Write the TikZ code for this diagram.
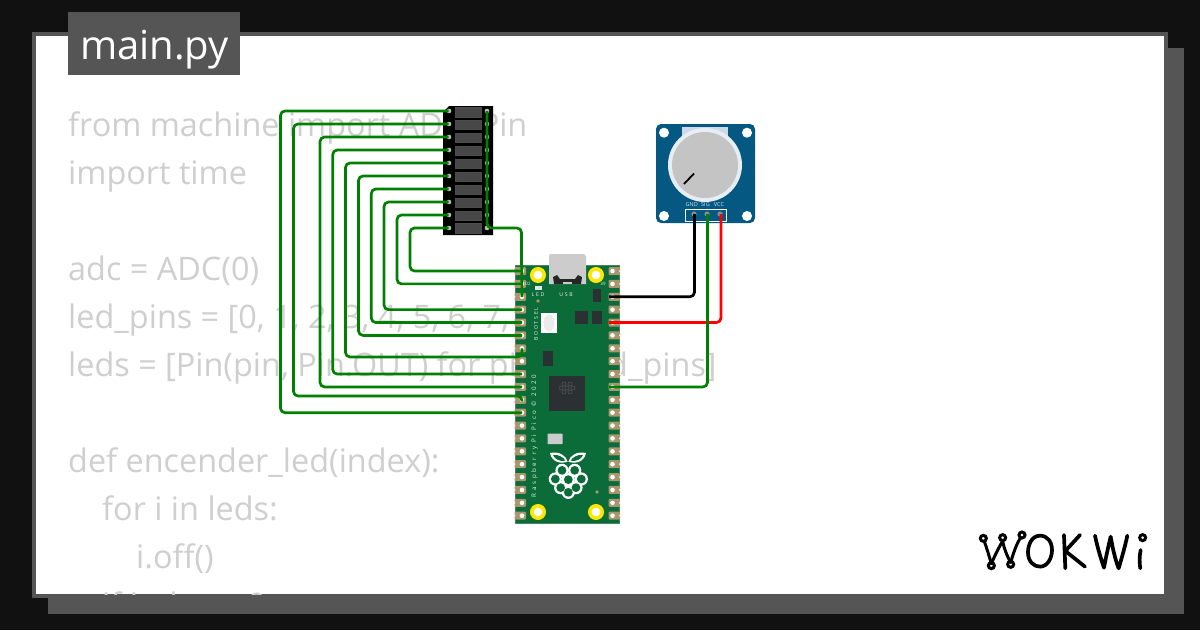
\documentclass[tikz,border=0pt]{standalone}
\usepackage{fontspec}
\setmainfont{Open Sans}
\newfontfamily\pcbfont[LetterSpace=32]{Open Sans}
\newfontfamily\brandfont[LetterSpace=42]{Open Sans}
\usetikzlibrary{calc}
\definecolor{bgdark}{HTML}{111111}
\definecolor{framegrey}{HTML}{555555}
\definecolor{codegrey}{HTML}{CFCFCF}
\definecolor{wiregreen}{HTML}{008000}
\definecolor{pcbgreen}{HTML}{0B6B39}
\definecolor{padtan}{HTML}{A8966E}
\definecolor{chipdark}{HTML}{2B3032}
\definecolor{potblue}{HTML}{045881}
\definecolor{pottab}{HTML}{CDD9E6}
\tikzset{
  codeline/.style={anchor=base west,text=codegrey,font=\fontsize{32.4}{32.4}\selectfont,inner sep=0pt},
  wire/.style={line width=2.7pt,rounded corners=4.5pt,line join=round},
  gwire/.style={wire,draw=wiregreen},
  pcblabel/.style={text=white!92!pcbgreen,font=\pcbfont\fontsize{5.2}{5.2}\selectfont,inner sep=0pt},
  potlabel/.style={text=white!85!potblue,font=\fontsize{5.5}{5.5}\selectfont,inner sep=0pt},
  chip/.style={fill=chipdark,draw=none},
  mount/.style={draw=yellow!90!orange,fill=white,line width=3.6pt},
  logo/.style={draw=black,line width=3.7pt,line cap=round,line join=round},
  logoring/.style={draw=black,line width=3pt},
}
\begin{document}
\begin{tikzpicture}[x=1pt,y=-1pt]
\useasboundingbox (0,0) rectangle (1200,630);
\fill[bgdark] (0,0) rectangle (1200,630);
% frame
\fill[framegrey] (48,48) rectangle (1184,614);
\fill[framegrey] (32,32) rectangle (1168,598);
\fill[white] (36,36) rectangle (1164,594);
% code
\begin{scope}
\clip (36,36) rectangle (1164,594);
\node[codeline] (c1) at (68,136) {from machine import ADC, Pin};
\node[codeline] (c2) at (68,184) {import time};
\node[codeline] (c3) at (68,280) {adc = ADC(0)};
\node[codeline] (c4) at (68,328) {led\_pins = [0, 1, 2, 3, 4, 5, 6, 7, 8, 9]};
\node[codeline] (c5) at (68,376) {leds = [Pin(pin, Pin.OUT) for pin in led\_pins]};
\node[codeline] (c6) at (68,472) {def encender\_led(index):};
\node[codeline] (c7) at (102,520) {for i in leds:};
\node[codeline] (c8) at (136,568) {i.off()};
\node[codeline] (c9) at (102,616) {if index < 0:};
\end{scope}
% title
\fill[framegrey] (68,12) rectangle (240,75);
\node[anchor=base west,text=white,font=\fontsize{40}{40}\selectfont,inner sep=0pt] (title) at (80,59) {main.py};
% LED bar
\fill[black] (449,106) -- (493,106) -- (493,235) -- (443,235) -- (443,112) -- cycle;
\foreach \i in {1,...,10}{
  \pgfmathsetmacro{\yy}{112.2+(\i-1)*12.9}
  \fill[draw=black!70,fill=black!72,line width=.5pt] (455,\yy-4.6) rectangle (481,\yy+4.6);
  \pgfmathsetmacro{\py}{111+(\i-1)*13}
  \fill[black!25] (449,\py) circle[radius=2.3pt];
  \fill[black!25] (487,\py) circle[radius=2.3pt];
  \coordinate (bl\i) at (448.5,\py);
  \coordinate (br\i) at (487,\py);
}
% Pico board
\fill[black!15!pcbgreen!75!white] (514.5,264.5) rectangle (620,523.5);
\fill[pcbgreen] (515.5,265.5) rectangle (619,522.5);
\foreach \i in {1,...,20}{
  \pgfmathsetmacro{\py}{271+(\i-1)*12.88}
  \fill[padtan,rounded corners=1pt] (514.5,\py-4) rectangle (526,\py+4);
  \fill[padtan,rounded corners=1pt] (608.5,\py-4) rectangle (620,\py+4);
  \fill[white] (522,\py) circle[radius=2.3pt];
  \fill[white] (612.5,\py) circle[radius=2.3pt];
  \fill[white] (514.5,\py) circle[radius=1pt];
  \fill[white] (620,\py) circle[radius=1pt];
  \coordinate (pl\i) at (522,\py);
  \coordinate (pr\i) at (609,\py);
}
% USB
\fill[black!20] (550,254) -- (584,254) -- (586,256) -- (586,284) -- (549,284) -- (549,256) -- cycle;
\fill[black!85] (553,277) -- (557,275) -- (560,279) -- (575,279) -- (578,275) -- (582,277) -- (581,284) -- (554,284) -- cycle;
\fill[black!20] (563,282) rectangle (572,284);
% mounting holes
\foreach \p/\n in {538/275,596/275,538/512,596/512}
  \draw[mount] (\p,\n) circle[radius=6.2pt];
% parts
\fill[white!85!pcbgreen] (534.5,286) rectangle (541.5,290);
\fill[padtan] (538,301) circle[radius=1.8pt];
\fill[padtan] (597,492) circle[radius=1.8pt];
\fill[white] (541,313) rectangle (557,333);
\fill[black!8] (549,323) ellipse[x radius=5.5pt,y radius=8.5pt];
\fill[chip] (575,311) rectangle (588,324);
\fill[chip] (592,311) rectangle (602,324);
\fill[chip] (593,289) rectangle (601,302);
\fill[chip] (543,351) rectangle (553,366);
\fill[chip] (549,376) rectangle (585,411);
\foreach \a/\b in {564/384,570/384,561/388,567/388,573/388,564/392,570/392}
  \draw[black!68,line width=.6pt] (\a,\b) circle[radius=2pt];
\fill[black!20,rounded corners=.5pt] (547.5,433.5) rectangle (562.5,444);
% raspberry
\begin{scope}[shift={(540,445)},x=.3333pt,y=-.3333pt]
\fill[white] (30,24) .. controls (55,18) and (78,30) .. (83,50) .. controls (60,58) and (35,50) .. (30,24) -- cycle;
\fill[white] (138,24) .. controls (113,18) and (90,30) .. (85,50) .. controls (108,58) and (133,50) .. (138,24) -- cycle;
\fill[pcbgreen] (39,30) .. controls (55,28) and (70,36) .. (76,47) .. controls (60,50) and (45,44) .. (39,30) -- cycle;
\fill[pcbgreen] (129,30) .. controls (113,28) and (98,36) .. (92,47) .. controls (108,50) and (123,44) .. (129,30) -- cycle;
\foreach \a/\b in {66/76,104/76,46/102,85/104,124/102,62/128,108/128,85/142}
  \fill[white] (\a,\b) circle[radius=6.6pt];
\foreach \a/\b in {66/76,104/76,46/102,85/104,124/102,62/128,108/128,85/142}
  \fill[pcbgreen] (\a,\b) circle[radius=4.4pt];
\end{scope}
% pcb labels
\node[pcblabel] (ledl) at (538,294.5) {LED};
\node[pcblabel] (usbl) at (566,294.5) {USB};
\node[pcblabel,rotate=90] (bootl) at (536,324) {BOOTSEL};
\node[pcblabel,rotate=90,font=\brandfont\fontsize{6.2}{6.2}\selectfont] (brand) at (534.5,436) {Raspberry Pi Pico © 2020};
\node[pcblabel,font=\fontsize{4.5}{4.5}\selectfont] (n2) at (528,284) {02};
\node[pcblabel,font=\fontsize{4.5}{4.5}\selectfont] (n39) at (603,284) {39};
% potentiometer
\fill[potblue,rounded corners=5pt] (656,124) rectangle (755,223);
\foreach \a/\b in {664/132.7,747/132.7,664/216,747/216}
  \fill[white] (\a,\b) circle[radius=5pt];
\fill[pottab] (682,127) rectangle (728,142);
\fill[white!90!potblue] (705,165) circle[radius=37pt];
\fill[black!23] (705,165) circle[radius=33pt];
\draw[black,line width=1.8pt] (684,184) -- (694,173.5);
\node[potlabel] (gndl) at (691.7,205) {GND};
\node[potlabel] (sigl) at (705.5,205) {SIG};
\node[potlabel] (vccl) at (719,205) {VCC};
\draw[white,line width=1pt] (685.5,209) rectangle (726.5,221);
\coordinate (potg) at (694.5,214);
\coordinate (pots) at (707.5,214);
\coordinate (potv) at (721,214);
\fill[black!45] (694,214) circle[radius=2.6pt];
\fill[black!45] (707,214) circle[radius=2.6pt];
\fill[black!45] (720,214) circle[radius=2.6pt];
% wires: LED bar to Pico
\coordinate (v1) at (280.5,250);
\coordinate (v2) at (293.5,250);
\coordinate (v3) at (320,250);
\coordinate (v4) at (332.7,250);
\coordinate (v5) at (345.5,250);
\coordinate (v6) at (358.5,250);
\coordinate (v7) at (371.3,250);
\coordinate (v8) at (384,250);
\coordinate (v9) at (397,250);
\coordinate (v10) at (410,250);
\coordinate (hk5) at (522,357);
\coordinate (hk2) at (522,396);
\coordinate (vg) at (521.5,260);
\draw[gwire] (bl1) -| (v1) |- (pl12);
\draw[gwire] (bl2) -| (v2) |- (hk2) -- (pl11);
\draw[gwire] (bl3) -| (v3) |- (pl10);
\draw[gwire] (bl4) -| (v4) |- (pl9);
\draw[gwire] (bl5) -| (v5) |- (hk5) -- (pl7);
\draw[gwire] (bl6) -| (v6) |- (pl6);
\draw[gwire] (bl7) -| (v7) |- (pl5);
\draw[gwire] (bl8) -| (v8) |- (pl4);
\draw[gwire] (bl9) -| (v9) |- (pl2);
\draw[gwire] (bl10) -| (v10) |- (pl1);
\draw[gwire] (br1) -- (br10) -| (vg) -- (pl3);
% wires: Pico to potentiometer
\draw[wire,draw=black] (pr3) -| (potg);
\draw[wire,draw=red] (pr5) -| (potv);
\draw[gwire] (pr10) -| (pots);
% WOKWI logo
\begin{scope}[shift={(960,515)},x=.3333pt,y=-.3333pt]
\draw[logo,line width=3pt] (74,82) .. controls (82,105) and (88,125) .. (94,146);
\draw[logo,line width=3pt] (94,146) .. controls (105,120) and (118,95) .. (128,78);
\draw[logo,line width=3pt] (128,78) .. controls (132,100) and (142,125) .. (152,142);
\draw[logo,line width=3pt] (152,142) .. controls (160,115) and (170,85) .. (182,68);
\foreach \a/\b in {70/70,128/68,186/60,94/152,152/148,548/68}
  \draw[logoring] (\a,\b) circle[radius=3pt];
\draw[logo] (240,62) .. controls (215,62) and (204,90) .. (204,112) .. controls (204,140) and (222,155) .. (240,155) .. controls (262,155) and (276,130) .. (276,105) .. controls (276,80) and (262,62) .. (240,62) -- cycle;
\draw[logo] (312,60) -- (316,160);
\draw[logo] (360,60) -- (316,108) -- (375,155);
\draw[logo] (405,62) .. controls (412,95) and (422,130) .. (432,158) .. controls (438,125) and (445,95) .. (452,65) .. controls (458,100) and (466,135) .. (476,160) .. controls (485,130) and (495,95) .. (502,62);
\draw[logo] (542,105) .. controls (538,125) and (538,145) .. (541,160);
\end{scope}
\end{tikzpicture}
\end{document}
